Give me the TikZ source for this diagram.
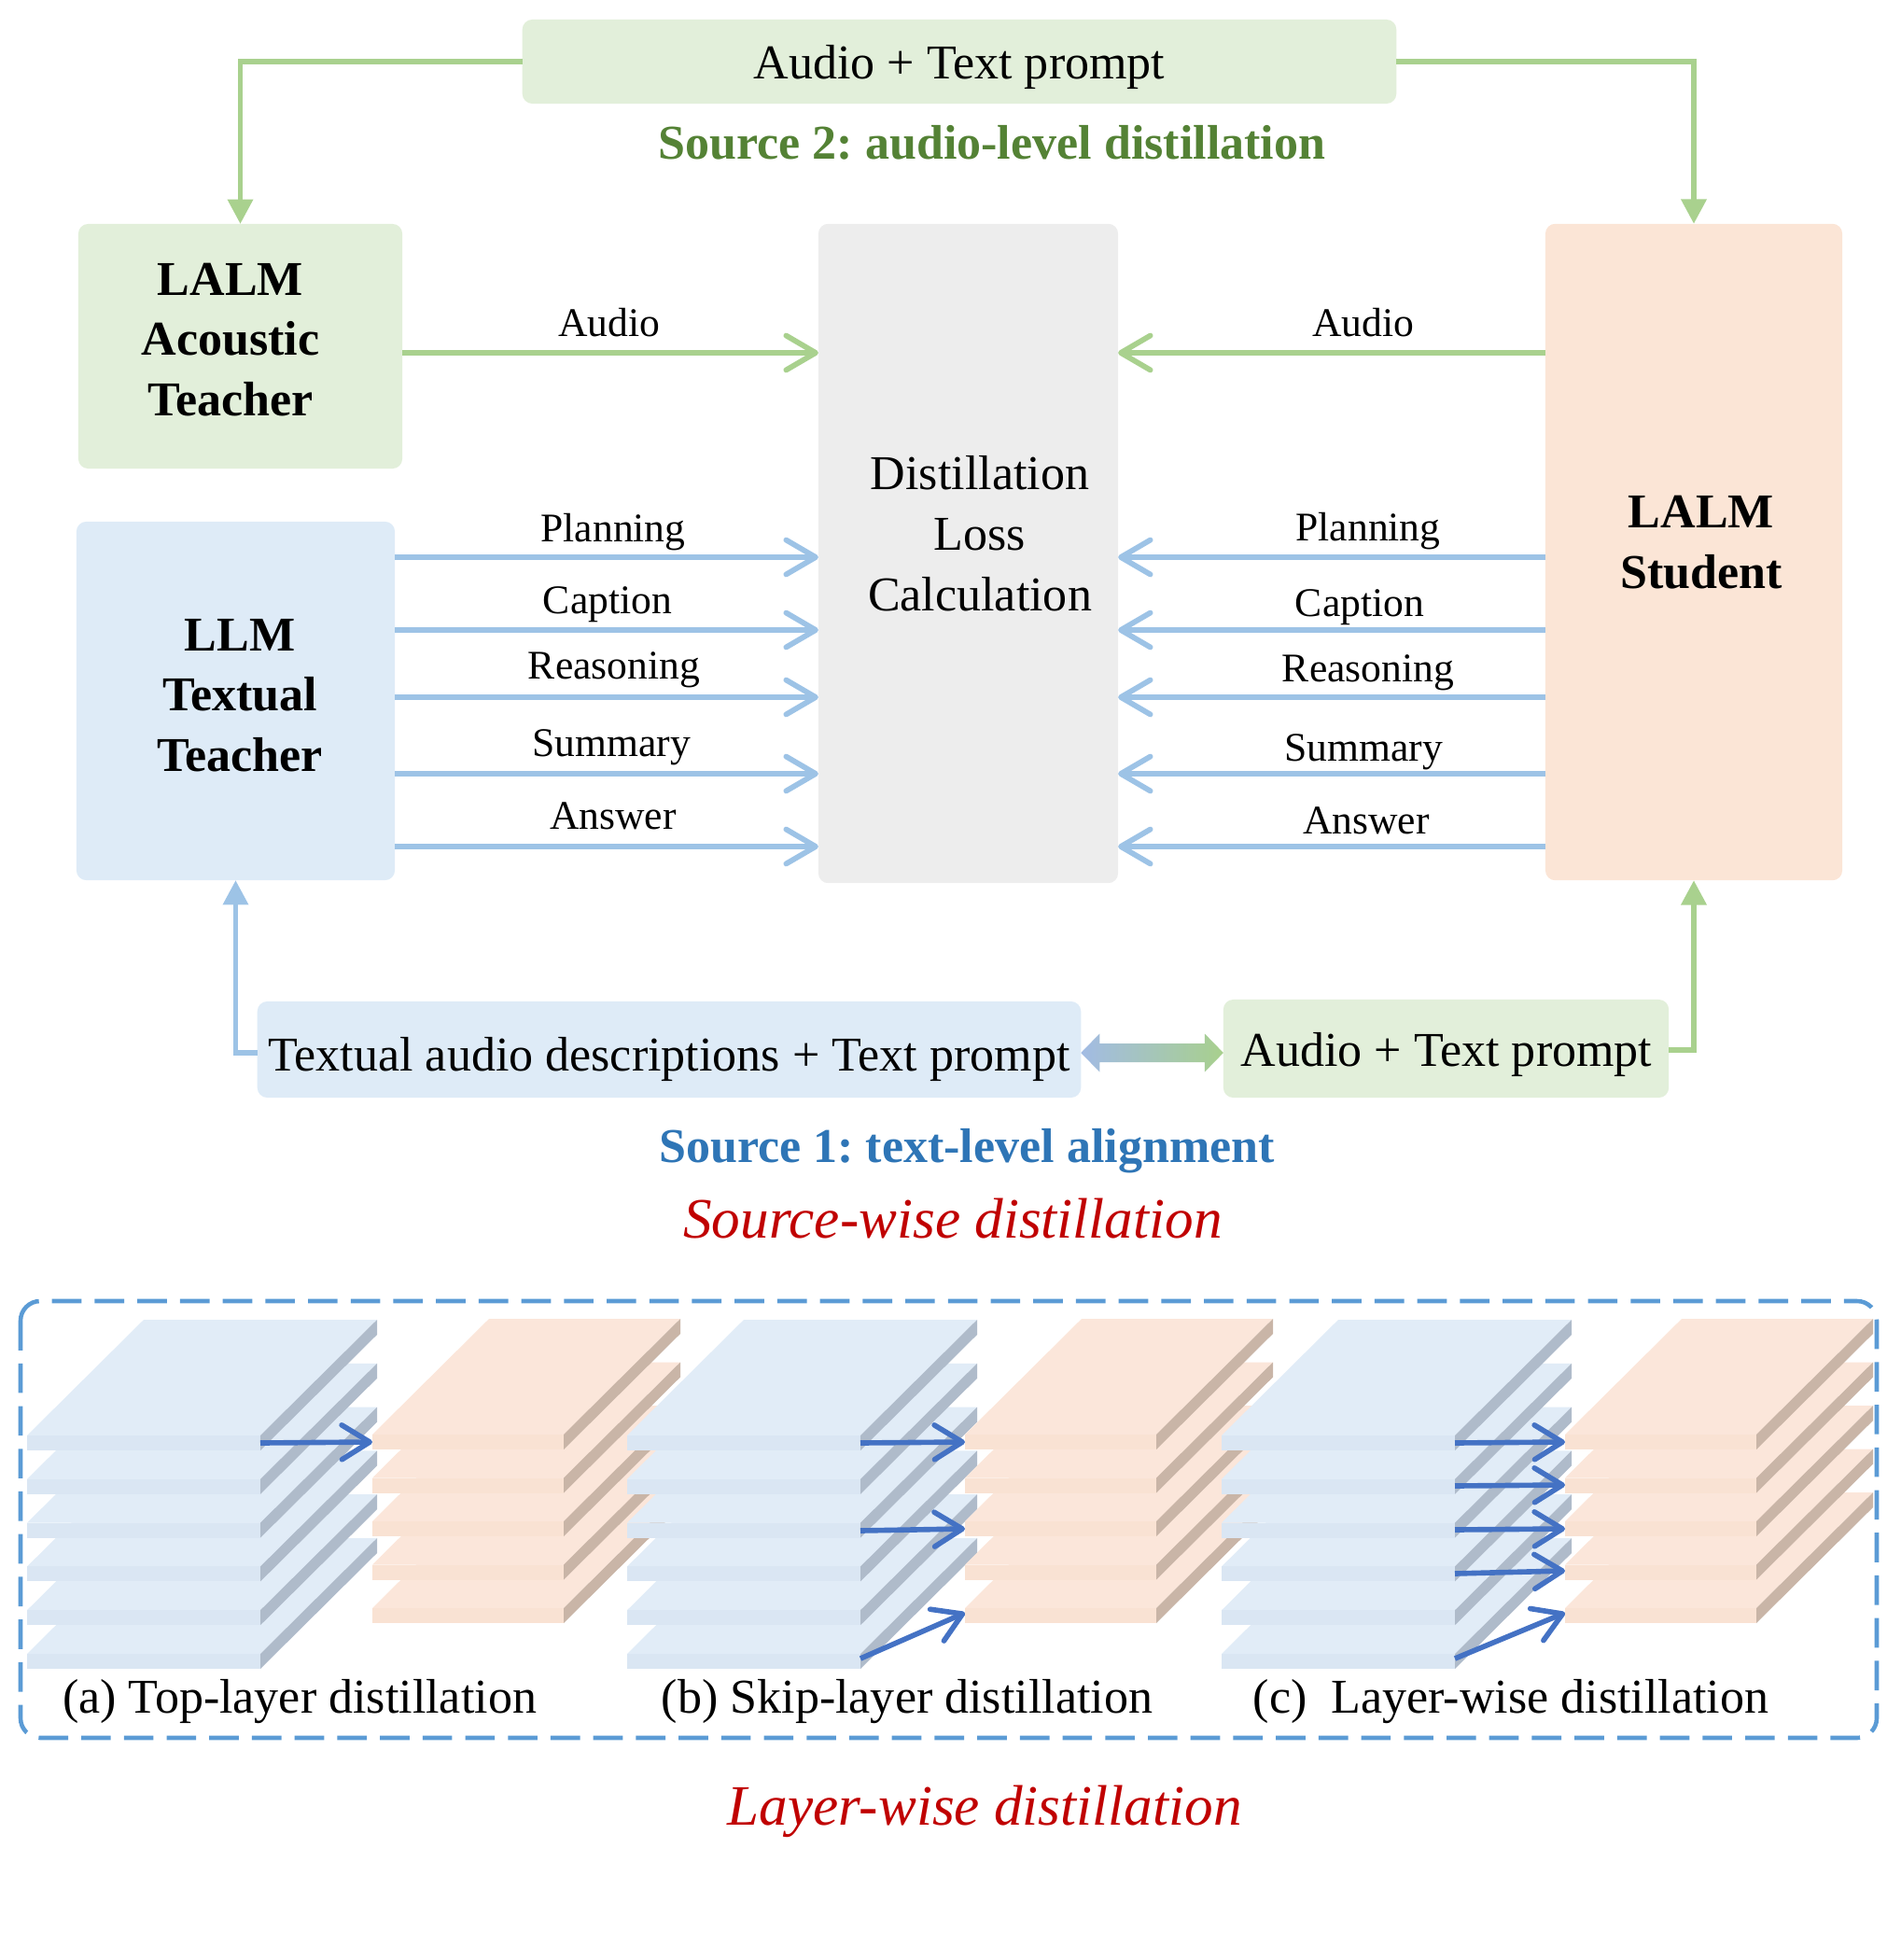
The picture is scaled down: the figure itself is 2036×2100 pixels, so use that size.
\documentclass[tikz,border=0pt]{standalone}
\usepackage{fontspec}
\setmainfont{Liberation Serif}
\usetikzlibrary{arrows.meta,calc}
\frenchspacing
\definecolor{gfill}{HTML}{E2EFDA}
\definecolor{bfill}{HTML}{DEEBF7}
\definecolor{ofill}{HTML}{FBE5D6}
\definecolor{kfill}{HTML}{EDEDED}
\definecolor{gline}{HTML}{A9D18E}
\definecolor{bline}{HTML}{9DC3E6}
\definecolor{gtext}{HTML}{548235}
\definecolor{btext}{HTML}{2E75B6}
\definecolor{rtext}{HTML}{C00000}
\definecolor{dkblue}{HTML}{4472C4}
\definecolor{frameblue}{HTML}{5B9BD5}
\definecolor{stTop}{HTML}{E1ECF7}
\definecolor{stFront}{HTML}{DAE6F3}
\definecolor{stSide}{HTML}{AFBBCA}
\definecolor{soTop}{HTML}{FBE6DA}
\definecolor{soFront}{HTML}{F9E2D3}
\definecolor{soSide}{HTML}{C9B5A7}
\definecolor{gradL}{HTML}{A2BBE4}
\definecolor{gradR}{HTML}{A8D08D}
\newcommand\FMain{\fontsize{14.8}{18.4}\selectfont}
\newcommand\FSmall{\fontsize{12.4}{15}\selectfont}
\newcommand\FBig{\fontsize{17.4}{21}\selectfont}
% slab: x, y (front top-left), width, top colour, front colour, side colour
\newcommand\Slab[6]{%
  \fill[#4] (#1,#2) -- ++(#3,0) -- ++(125,-124) -- ++(-#3,0) -- cycle;
  \fill[#5] (#1,#2) rectangle ++(#3,16);
  \fill[#6] ({#1+#3},#2) -- ++(125,-124) -- ++(0,16) -- ++(-125,124) -- cycle;
}
\newcommand\BStack[1]{\foreach \k in {5,4,3,2,1,0}{\Slab{#1}{1538+46.8*\k}{250}{stTop}{stFront}{stSide}}}
\newcommand\OStack[1]{\foreach \k in {4,3,2,1,0}{\Slab{#1}{1537+46.5*\k}{205}{soTop}{soFront}{soSide}}}
\begin{document}
\begin{tikzpicture}[x=0.01cm,y=-0.01cm,
  box/.style={rounded corners=3pt,inner sep=0pt,outer sep=0pt},
  tx/.style={font=\FMain,inner sep=0pt,anchor=base},
  btx/.style={font=\FMain\bfseries,align=center,inner sep=0pt},
  lb/.style={font=\FSmall,inner sep=0pt,anchor=base},
  barb/.style={line width=1.65pt,-{Straight Barb[length=9pt,width=10.5pt,round]}},
  tri/.style={line width=1.6pt,-{Triangle[length=7.5pt,width=7.5pt]}},
  larr/.style={dkblue,line width=1.6pt,-{Straight Barb[length=8.5pt,width=10.5pt,round]}}]
\useasboundingbox (0,0) rectangle (2036,2100);

% ---------- boxes ----------
\node[box,fill=gfill,minimum width=9.36cm,minimum height=0.9cm] (topG) at (1028,66) {};
\node[tx] (topGt) at (1028,85) {Audio + Text prompt};
\node[tx,font=\FMain\bfseries,text=gtext] (src2) at (1063,170) {Source 2: audio-level distillation};

\node[box,fill=gfill,minimum width=3.47cm,minimum height=2.62cm] (acoustic) at (257.5,371) {};
\node[btx] (acousticT) at (247,364) {LALM\\Acoustic\\Teacher};

\node[box,fill=kfill,minimum width=3.21cm,minimum height=7.06cm] (distill) at (1037.5,593) {};
\node[font=\FMain,align=center,inner sep=0pt] (distillT) at (1050,571.5) {Distillation\\Loss\\Calculation};

\node[box,fill=ofill,minimum width=3.18cm,minimum height=7.03cm] (student) at (1815,591.5) {};
\node[btx] (studentT) at (1823,581) {LALM\\Student};

\node[box,fill=bfill,minimum width=3.41cm,minimum height=3.84cm] (llm) at (252.5,751) {};
\node[btx] (llmT) at (257,745) {LLM\\Textual\\Teacher};

\node[box,fill=bfill,minimum width=8.82cm,minimum height=1.03cm] (bt) at (717,1124.5) {};
\node[tx] (btT) at (717,1147) {Textual audio descriptions + Text prompt};
\node[box,fill=gfill,minimum width=4.77cm,minimum height=1.05cm] (ba) at (1549.5,1123.5) {};
\node[tx] (baT) at (1550,1142) {Audio + Text prompt};

\node[tx,font=\FMain\bfseries,text=btext] (src1) at (1036,1245) {Source 1: text-level alignment};
\node[tx,font=\FBig\itshape,text=rtext] (sw) at (1021,1326) {Source-wise distillation};

% ---------- connectors ----------
\draw[gline,tri] (topG.west) -| (acoustic.north);
\draw[gline,tri] (topG.east) -| (student.north);
\draw[gline,barb] (acoustic.east |- 0,378) -- (distill.west |- 0,378);
\draw[gline,barb] (student.west |- 0,378) -- (distill.east |- 0,378);
\node[lb] (audL) at (653,360) {Audio};
\node[lb] (audR) at (1461,360) {Audio};
\foreach \yy in {597,675,747,829,907}{
  \draw[bline,barb] (llm.east |- 0,\yy) -- (distill.west |- 0,\yy);
  \draw[bline,barb] (student.west |- 0,\yy) -- (distill.east |- 0,\yy);
}
\node[lb] (pL) at (657,580) {Planning};
\node[lb] (cL) at (651,657) {Caption};
\node[lb] (rL) at (658,727) {Reasoning};
\node[lb] (sL) at (655,810) {Summary};
\node[lb] (aL) at (657,888) {Answer};
\node[lb] (pR) at (1466,579) {Planning};
\node[lb] (cR) at (1457,660) {Caption};
\node[lb] (rR) at (1466,730) {Reasoning};
\node[lb] (sR) at (1461,815) {Summary};
\node[lb] (aR) at (1464,893) {Answer};

\draw[bline,tri] (bt.west |- 0,1128) -| (llm.south);
\draw[gline,tri] (ba.east |- 0,1125) -| (student.south);

\coordinate (dl) at (bt.east |- 0,1128);
\coordinate (dr) at (ba.west |- 0,1128);
\shade[left color=gradL,right color=gradR] (dl) -- ($(dl)+(20,-20.5)$) -- ($(dl)+(20,-10)$) -- ($(dr)+(-20,-10)$) -- ($(dr)+(-20,-20.5)$) -- (dr) -- ($(dr)+(-20,20.5)$) -- ($(dr)+(-20,10)$) -- ($(dl)+(20,10)$) -- ($(dl)+(20,20.5)$) -- cycle;

% ---------- layer-wise panel ----------
\draw[frameblue,line width=1.3pt,dash pattern=on 9pt off 4pt,rounded corners=6pt] (22,1394) rectangle (2011,1862);

\BStack{29}
\OStack{399}
\BStack{672}
\OStack{1034}
\BStack{1309}
\OStack{1677}

% (a)
\coordinate (a1s) at (279,1546); \coordinate (a1e) at (399,1545);
\draw[larr] (a1s) -- (a1e);
% (b)
\coordinate (b1s) at (922,1546); \coordinate (b1e) at (1034,1545);
\coordinate (b2s) at (922,1640); \coordinate (b2e) at (1034,1638);
\coordinate (b3s) at (922,1777); \coordinate (b3e) at (1034,1728);
\draw[larr] (b1s) -- (b1e);
\draw[larr] (b2s) -- (b2e);
\draw[larr] (b3s) -- (b3e);
% (c)
\coordinate (c1s) at (1559,1546); \coordinate (c1e) at (1677,1545);
\coordinate (c2s) at (1559,1592); \coordinate (c2e) at (1677,1591);
\coordinate (c3s) at (1559,1639); \coordinate (c3e) at (1677,1638);
\coordinate (c4s) at (1559,1686); \coordinate (c4e) at (1677,1683);
\coordinate (c5s) at (1559,1777); \coordinate (c5e) at (1677,1728);
\draw[larr] (c1s) -- (c1e);
\draw[larr] (c2s) -- (c2e);
\draw[larr] (c3s) -- (c3e);
\draw[larr] (c4s) -- (c4e);
\draw[larr] (c5s) -- (c5e);

\node[tx] (la) at (321,1835) {(a) Top-layer distillation};
\node[tx] (lbb) at (972,1835) {(b) Skip-layer distillation};
\node[tx] (lc) at (1619,1835) {(c)\ \ Layer-wise distillation};

\node[tx,font=\FBig\itshape,text=rtext] (lw) at (1055,1955) {Layer-wise distillation};
\end{tikzpicture}
\end{document}
